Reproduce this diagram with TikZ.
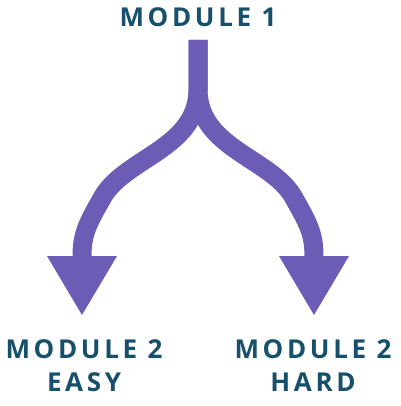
\documentclass[tikz,border=0pt]{standalone}
\usepackage{fontspec}
\newfontfamily\labfont[LetterSpace=14]{Open Sans}
\definecolor{txt}{RGB}{22,80,106}
\definecolor{arr}{RGB}{108,92,182}
\begin{document}
\begin{tikzpicture}[x=1pt,y=-1pt,
  lab/.style={font=\labfont\bfseries\fontsize{26}{33}\selectfont, text=txt, align=center, inner sep=0pt},
  branch/.style={draw=arr, line width=19pt, line cap=butt},
  head/.style={fill=arr, draw=none}]
\useasboundingbox (0,0) rectangle (400,406);
\node[lab] (m1) at (198,17) {MODULE 1};
\node[lab, anchor=north] (easy) at (84,339) {MODULE 2\\EASY};
\node[lab, anchor=north] (hard) at (313,339) {MODULE 2\\HARD};
\coordinate (top) at (198,40);
\coordinate (lend) at (82,257);
\coordinate (rend) at (314,257);
\draw[branch] (top) -- (198,90) .. controls (197,150) and (122,158) .. (101,200) .. controls (86,226) and (82,236) .. (lend);
\draw[branch] (top) -- (198,90) .. controls (199,150) and (274,158) .. (295,200) .. controls (310,226) and (314,236) .. (rend);
\fill[head] (47,256) -- (117,256) -- (82,315) -- cycle;
\fill[head] (279,256) -- (349,256) -- (314,315) -- cycle;
\end{tikzpicture}
\end{document}
